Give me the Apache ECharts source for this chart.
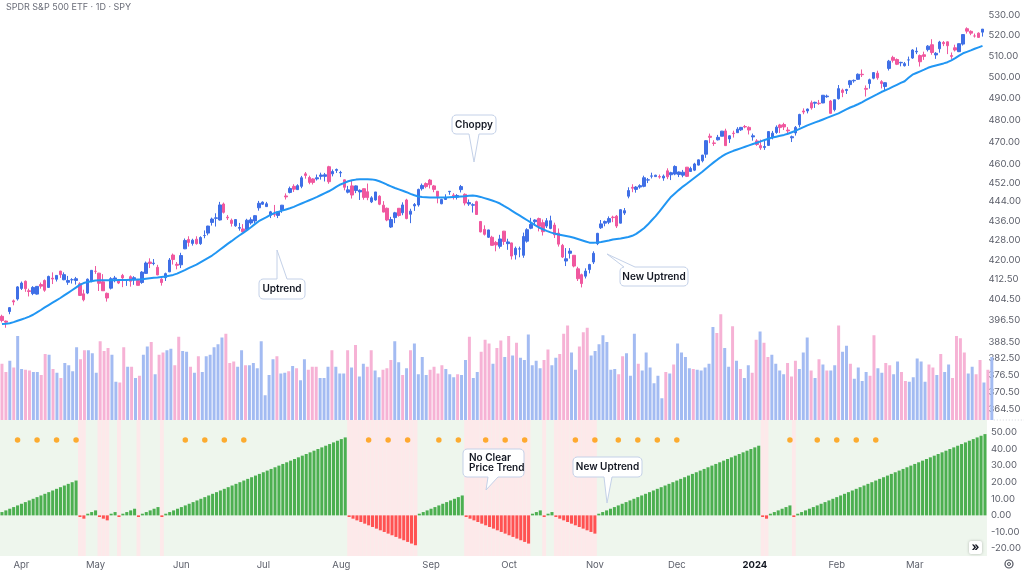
<!DOCTYPE html>
<html>
<head>
<meta charset="utf-8">
<title>SPDR S&amp;P 500 ETF</title>
<script src="https://cdn.jsdelivr.net/npm/echarts@6/dist/echarts.min.js"></script>
<style>
html,body{margin:0;padding:0;background:#fff;}
#chart{width:1024px;height:571px;}
</style>
</head>
<body>
<div id="chart"></div>
<script>
// daily candles, Mar 27 2023 .. Mar 27 2024
var opens = [
398.1,396.3,399.9,404.0,404.7,408.8,411.6,407.9,406.8,406.6,
410.3,411.9,409.2,412.8,412.4,415.6,412.2,411.2,412.2,411.9,
410.6,406.7,407.0,411.5,415.5,414.8,411.4,406.9,408.9,412.4,
411.7,413.9,411.9,413.4,412.2,411.9,411.1,414.7,419.2,418.6,
417.1,412.4,413.0,415.3,422.0,418.3,418.1,424.5,428.3,426.7,
428.4,426.6,429.9,430.9,435.3,437.0,436.3,443.0,437.5,436.2,
433.9,432.9,432.6,432.4,435.1,435.9,441.4,442.9,441.9,438.3,
438.6,438.2,440.5,446.4,447.9,450.5,449.1,450.5,455.9,454.3,
453.7,453.7,454.8,454.8,459.0,455.9,457.4,456.3,453.3,448.0,
450.7,448.7,448.1,449.5,448.2,443.9,444.7,446.3,442.5,441.2,
433.4,437.3,441.2,439.3,444.7,438.7,442.2,442.6,449.5,451.7,
453.2,450.7,448.4,443.1,444.9,448.2,446.8,445.9,449.1,447.1,
443.0,442.5,444.0,435.7,432.4,429.2,429.2,427.1,425.5,431.7,
426.6,426.9,422.1,424.4,421.9,427.6,432.9,435.6,436.9,435.2,
433.8,432.8,434.2,430.9,425.9,419.6,422.7,421.9,416.5,414.2,
413.6,416.2,419.2,426.6,433.1,435.0,435.4,437.5,437.9,435.0,
439.2,446.3,450.1,449.2,450.2,450.5,453.2,454.9,454.7,454.7,
454.1,457.2,455.5,455.8,455.6,455.3,458.8,456.9,457.5,459.7,
461.6,464.5,472.5,469.5,470.9,472.5,474.9,471.3,473.9,474.1,
475.4,476.9,476.5,472.2,470.4,468.3,467.5,468.4,471.9,474.2,
477.6,477.8,475.3,471.8,474.0,477.7,484.0,484.0,487.8,487.6,
487.6,487.7,490.6,488.6,484.6,489.7,493.7,493.5,496.3,498.1,
498.8,501.2,494.5,496.8,499.3,501.7,497.7,495.4,504.0,509.3,
508.3,506.7,505.3,508.1,509.0,512.0,510.2,510.6,513.1,515.5,
510.5,513.5,516.6,516.9,510.2,514.0,512.1,515.8,523.4,522.1,
519.8,521.2,521.7
];
var closes = [
396.5,395.9,401.4,403.6,409.4,410.9,408.7,407.6,409.2,409.6,
409.7,408.1,413.5,412.5,413.9,414.2,414.2,411.9,412.2,412.6,
406.1,404.4,412.4,415.9,415.5,410.8,407.9,405.1,412.6,412.9,
410.9,412.9,412.1,411.6,413.0,410.0,415.2,418.8,418.6,418.8,
414.1,411.1,414.6,420.0,420.2,417.9,421.8,427.9,427.1,428.0,
426.6,429.1,429.9,433.8,436.7,437.2,442.6,439.5,437.2,434.9,
436.5,433.2,431.4,436.2,436.4,438.1,443.3,443.8,443.1,439.7,
438.5,439.7,442.5,446.0,449.6,449.3,450.8,454.2,455.2,452.2,
452.2,454.2,455.4,455.5,452.5,456.9,457.8,456.5,450.1,449.0,
446.8,450.7,448.8,445.8,445.7,445.6,448.1,442.9,439.6,436.3,
436.5,439.3,438.2,442.6,436.9,440.0,442.8,449.2,450.9,450.4,
451.2,449.2,446.2,444.9,445.5,448.4,446.5,446.6,450.4,443.4,
443.6,442.7,438.6,431.4,430.4,432.2,425.9,426.1,428.5,427.5,
427.3,421.6,424.7,424.5,429.5,432.3,434.5,436.3,433.7,431.5,
436.0,436.0,430.2,426.4,421.2,420.5,423.6,417.6,412.6,410.7,
415.6,418.2,422.7,430.8,434.7,435.7,436.9,437.3,433.8,440.6,
440.2,448.7,449.7,450.2,450.8,454.2,453.3,455.0,455.3,454.5,
454.9,454.6,456.4,459.1,456.7,456.6,454.8,458.2,460.2,462.0,
464.1,470.5,472.0,469.3,472.0,474.8,468.3,472.7,473.7,475.7,
476.5,476.7,475.3,472.7,468.8,467.3,467.9,474.6,473.9,476.6,
476.4,476.7,474.9,472.3,476.5,482.4,483.5,484.9,485.4,488.0,
487.4,491.3,490.9,482.9,489.2,494.4,492.6,494.0,498.1,498.3,
501.2,501.0,494.1,498.6,502.0,499.5,496.8,497.2,507.5,507.9,
506.0,506.9,506.3,508.1,512.9,512.3,507.2,509.8,514.8,511.7,
511.3,516.8,516.0,515.0,509.8,512.9,516.0,520.5,522.2,521.2,
519.8,519.1,523.2
];
var lows = [
395.8,393.8,398.9,402.3,404.1,408.2,407.5,405.7,406.2,406.4,
408.7,407.5,409.0,410.5,411.5,412.9,412.0,410.2,410.7,410.3,
405.9,403.8,406.6,411.2,414.5,407.8,407.8,403.7,408.4,411.2,
410.5,409.3,409.8,409.5,410.2,410.0,410.6,414.6,416.8,417.9,
414.0,409.9,411.7,415.2,418.2,416.3,416.8,424.4,425.4,425.8,
426.2,426.1,428.8,430.0,434.0,433.6,436.1,439.0,436.3,433.6,
433.5,431.9,431.2,432.1,434.4,435.0,440.2,442.6,441.8,437.1,
437.6,437.1,439.3,444.9,447.5,448.1,449.0,449.7,453.8,451.4,
451.3,453.0,453.4,452.6,451.6,454.8,456.3,454.5,448.8,447.5,
445.3,447.6,444.7,444.8,444.6,443.4,444.4,442.5,439.5,435.8,
433.0,435.0,437.7,438.3,436.6,435.0,440.1,441.9,448.7,449.7,
449.6,448.0,443.3,442.9,444.8,446.9,444.9,444.9,447.9,442.4,
442.2,439.4,438.5,431.2,429.9,428.9,425.8,423.5,424.6,426.1,
424.1,420.2,420.2,421.1,420.9,427.0,432.5,433.9,431.6,429.9,
433.0,432.5,428.9,425.4,420.8,417.6,420.6,417.1,411.7,409.2,
412.7,414.7,418.4,426.0,432.6,433.7,434.6,435.4,433.0,434.9,
438.4,445.4,448.0,447.8,449.5,450.1,451.9,453.9,454.7,453.8,
452.9,453.6,453.2,455.3,454.5,454.4,454.5,456.8,457.1,459.5,
460.9,462.9,469.4,468.2,470.6,472.5,468.2,469.5,471.9,474.0,
474.9,476.1,473.3,470.5,468.2,466.4,466.4,468.2,471.1,473.6,
473.9,475.3,473.3,469.9,472.8,476.5,482.5,482.9,484.6,485.4,
486.8,487.6,490.1,482.9,483.8,489.3,490.4,491.9,494.8,497.2,
498.5,499.9,490.7,494.4,498.8,498.6,494.5,493.5,503.0,506.8,
505.6,505.0,504.9,505.2,508.6,510.9,504.9,508.1,512.2,510.6,
508.6,511.6,514.8,510.9,508.6,512.2,511.9,515.1,521.0,520.2,
519.0,518.9,519.5
];
var highs = [
398.7,396.5,401.6,404.5,409.7,411.5,411.9,408.7,409.7,409.7,
411.1,412.3,413.8,415.1,414.0,415.7,415.1,413.7,412.8,413.3,
411.2,408.3,412.7,416.0,417.6,414.9,414.4,407.2,413.2,413.7,
412.5,414.5,412.4,413.9,413.6,412.5,415.6,419.4,420.7,420.4,
418.1,412.8,415.0,420.8,422.6,419.2,422.9,428.7,429.6,428.6,
429.6,429.6,432.0,433.9,437.3,439.1,443.9,443.6,438.4,436.9,
436.6,435.1,434.6,436.8,437.4,438.3,444.3,444.1,443.9,440.1,
442.6,440.0,442.6,447.5,450.4,451.4,451.4,455.0,456.7,455.1,
454.0,455.6,456.4,456.3,459.4,457.8,458.2,457.2,453.4,450.7,
452.9,450.9,449.2,449.6,451.7,446.3,448.1,446.7,444.2,441.5,
437.6,439.7,441.2,443.7,445.2,441.0,443.4,449.5,451.7,452.2,
453.7,451.1,448.5,445.2,447.1,448.5,447.6,447.2,451.1,447.5,
444.9,443.3,444.4,435.9,434.1,432.3,429.8,427.7,430.2,431.8,
428.6,427.0,425.4,425.4,431.1,432.9,437.2,436.6,437.3,436.5,
437.1,438.1,435.2,432.8,426.5,424.8,424.8,421.9,417.3,414.6,
416.7,418.5,423.5,431.0,436.3,436.1,437.8,438.1,438.4,440.9,
441.3,450.1,451.4,450.6,451.4,455.1,454.1,456.4,455.5,455.6,
455.6,458.3,456.8,459.6,456.9,457.6,458.8,459.0,460.7,462.2,
464.2,470.8,473.7,470.7,473.1,474.9,475.9,472.9,475.0,476.6,
476.7,477.6,477.0,473.7,471.2,471.0,470.4,474.8,474.9,477.4,
478.1,478.6,476.6,472.8,477.1,482.7,485.2,485.1,488.8,488.3,
489.1,491.4,491.6,489.1,489.2,496.1,494.4,494.3,498.5,498.7,
501.6,503.5,495.9,499.1,502.2,502.9,498.4,497.4,508.1,510.1,
508.8,507.2,507.1,509.7,513.3,514.2,510.7,512.1,515.3,518.2,
511.9,517.4,517.3,517.1,511.7,515.5,516.1,520.6,524.1,522.6,
521.0,521.6,523.2
];
// blue moving average line
var maLine = [
395.2,395.3,395.5,395.9,396.4,396.9,397.4,398.0,398.7,399.6,
400.5,401.5,402.4,403.3,404.2,405.1,406.1,407.1,408.1,409.1,
410.2,410.9,411.3,411.6,411.9,412.0,412.0,412.0,412.0,412.0,
412.1,412.1,412.1,412.2,412.2,412.3,412.4,412.6,412.8,413.0,
413.1,413.3,413.5,413.8,414.1,414.6,415.3,416.0,416.8,417.5,
418.2,419.1,420.0,420.9,421.8,422.9,424.1,425.3,426.5,427.6,
428.8,429.9,431.0,432.1,433.3,434.6,435.8,436.7,437.5,438.4,
439.2,439.7,440.2,440.7,441.2,441.8,442.5,443.2,443.9,444.6,
445.3,446.0,446.8,447.6,448.4,449.3,450.4,451.3,452.0,452.7,
453.1,453.4,453.6,453.6,453.6,453.5,453.2,452.7,452.0,451.2,
450.5,449.8,449.2,448.6,448.0,447.3,446.7,446.2,446.0,445.9,
445.8,445.8,445.8,445.8,445.8,445.9,446.0,446.1,446.2,446.3,
446.5,446.6,446.4,446.0,445.5,445.0,444.5,443.9,443.2,442.2,
441.3,440.2,439.2,438.2,437.2,436.2,435.2,434.2,433.2,432.5,
431.8,431.2,430.7,430.3,430.0,429.7,429.4,429.0,428.5,428.0,
427.5,427.0,427.0,427.1,427.3,427.6,427.9,428.3,428.5,428.7,
429.0,429.3,429.8,430.6,431.7,432.9,434.4,436.2,437.9,439.9,
442.0,444.1,446.1,447.6,449.0,450.4,451.6,452.9,454.2,455.5,
456.8,458.2,459.6,461.0,462.3,463.5,464.5,465.3,466.0,466.6,
467.2,467.8,468.4,469.0,469.6,470.2,470.8,471.4,471.9,472.3,
472.7,473.1,473.6,474.3,475.0,475.8,476.6,477.4,478.1,478.8,
479.4,480.1,480.8,481.5,482.2,482.9,483.8,484.7,485.6,486.3,
487.1,488.0,489.0,490.0,490.9,491.8,492.8,493.6,494.4,495.3,
496.2,497.1,497.9,499.5,501.0,501.8,502.6,503.4,504.3,504.9,
505.4,505.9,506.4,507.0,507.9,509.0,510.2,511.3,512.0,512.7,
513.5,514.2,514.9
];
// volume, millions of shares
var volumes = [
75,64,79,70,112,68,67,66,64,64,
60,88,87,68,63,56,76,73,65,97,
81,93,93,89,63,105,92,96,87,51,
50,97,71,71,56,59,87,98,104,61,
87,90,93,95,73,111,92,91,71,63,
85,64,85,87,97,101,110,115,76,78,
71,93,73,73,76,69,105,33,60,81,
85,62,63,65,72,69,53,81,67,71,
71,56,56,71,93,71,62,62,93,70,
100,58,75,71,93,66,57,67,69,80,
105,77,60,69,93,102,61,84,60,67,
71,62,73,68,61,57,61,60,80,111,
56,64,91,107,102,75,96,106,84,112,
86,103,83,80,114,73,79,69,80,94,
73,83,88,115,126,90,67,98,117,123,
86,92,101,113,104,67,68,61,85,89,
59,115,75,66,90,70,49,59,29,64,
62,74,102,90,84,69,68,67,66,70,
75,124,116,141,96,71,125,79,68,56,
73,63,107,118,103,84,87,75,66,61,
76,58,79,68,90,110,66,56,81,74,
66,66,73,126,91,99,75,55,70,52,
64,59,113,69,63,76,73,61,78,64,
52,51,57,82,78,51,74,70,60,88,
64,74,56,112,109,90,62,71,61,80,
50,67,84
];
// days-in-trend counter (lower pane)
var trendCount = [
2,3,4,5,6,7,8,9,10,11,12,13,14,15,16,17,18,19,20,21,
-1,-2,1,2,3,-1,-2,-3,1,2,-1,1,2,3,4,-1,1,2,3,4,5,-1,
1,2,3,4,5,6,7,8,9,10,11,12,13,14,15,16,17,18,19,20,
21,22,23,24,25,26,27,28,29,30,31,32,33,34,35,36,37,38,39,40,
41,42,43,44,45,46,47,
-1,-2,-3,-4,-5,-6,-7,-8,-9,-10,-11,-12,-13,-14,-15,-16,-17,-18,
1,2,3,4,5,6,7,8,9,10,11,12,
-1,-2,-3,-4,-5,-6,-7,-8,-9,-10,-11,-12,-13,-14,-15,-16,-17,
1,2,3,-1,1,2,
-1,-2,-3,-4,-5,-6,-7,-8,-9,-10,-11,
1,2,3,4,5,6,7,8,9,10,11,12,13,14,15,16,17,18,19,20,
21,22,23,24,25,26,27,28,29,30,31,32,33,34,35,36,37,38,39,40,
41,42,
-1,-2,
1,2,3,4,5,6,-1,
1,2,3,4,5,6,7,8,9,10,11,12,13,14,15,16,17,18,19,20,
21,22,23,24,25,26,27,28,29,30,31,32,33,34,35,36,37,38,39,40,
41,42,43,44,45,46,47,48,49
];
var weeklyDots = [4,9,14,19,47,52,57,62,94,99,104,112,117,124,129,134,147,152,158,163,168,173,202,209,214,219,224];
var dotLevel = 45.5;

var priceTicks = [530,520,510,500,490,480,470,460,452,444,436,428,420,412.5,404.5,396.5,388.5,382.5,376.5,370.5,364.5];
var trendTicks = [50,40,30,20,10,0,-10,-20];
var monthTicks = {5:'Apr',24:'May',46:'Jun',67:'Jul',87:'Aug',110:'Sep',130:'Oct',152:'Nov',173:'Dec',193:'2024',214:'Feb',234:'Mar'};

var upColor = '#3f6fe6', downColor = '#f0589f';
var volUp = '#a3bbf2', volDown = '#f6b2d5';
var labelColor = '#5d606b';
var fontFamily = 'Inter, Roboto, sans-serif';

var days = closes.map(function (c, i) { return i; });
var plotRight = 1024 - 253 * 3.928;

var candleData = closes.map(function (c, i) {
    return [Math.log(opens[i]), Math.log(c), Math.log(lows[i]), Math.log(highs[i])];
});
var volData = volumes.map(function (v, i) {
    return {value: v, itemStyle: {color: closes[i] >= opens[i] ? volUp : volDown}};
});
var histData = trendCount.map(function (v) {
    return {value: v, itemStyle: {color: v >= 0 ? '#4caf50' : '#ff5252'}};
});
var bandData = trendCount.map(function (v) { return v < 0 ? 1 : '-'; });
var dotData = weeklyDots.map(function (i) { return [i, dotLevel]; });

//quarter circle points for a rounded corner
function corner(cx, cy, r, a0) {
    var pts = [];
    for (var k = 0; k <= 3; k++) {
        var a = (a0 + k * 30) * Math.PI / 180;
        pts.push([cx + r * Math.cos(a), cy + r * Math.sin(a)]);
    }
    return pts;
}

//speech bubble with a pointer tail
function bubble(b) {
    var r = 4, x0 = b.box[0], y0 = b.box[1], x1 = b.box[2], y1 = b.box[3];
    var pts = corner(x0 + r, y0 + r, r, 180);
    if (b.side === 'top') {
        pts.push([b.base[0], y0], b.tip, [b.base[1], y0]);
    }
    pts = pts.concat(corner(x1 - r, y0 + r, r, 270), corner(x1 - r, y1 - r, r, 0));
    if (b.side === 'bottom') {
        pts.push([b.base[1], y1], b.tip, [b.base[0], y1]);
    }
    pts = pts.concat(corner(x0 + r, y1 - r, r, 90));
    var left = b.align === 'left';
    return [
        {type: 'polygon', z: 100, shape: {points: pts}, style: {fill: '#fff', stroke: '#c4d1e8', lineWidth: 1}},
        {type: 'text', z: 101, x: left ? x0 + 6 : (x0 + x1) / 2, y: (y0 + y1) / 2,
            style: {text: b.text, fill: '#131722', font: '600 10px ' + fontFamily,
                align: left ? 'left' : 'center', verticalAlign: 'middle', lineHeight: 10}}
    ];
}

var graphics = [
    {type: 'text', x: 6, y: 7, style: {text: 'SPDR S&P 500 ETF · 1D · SPY', fill: '#6a6d78',
        font: '9px ' + fontFamily, verticalAlign: 'middle'}}
];
[
    {text: 'Choppy', box: [452, 115, 496, 134], side: 'bottom', base: [469, 479], tip: [474, 162]},
    {text: 'Uptrend', box: [259, 279, 305, 299], side: 'top', base: [277, 287], tip: [277, 250]},
    {text: 'New Uptrend', box: [620, 267, 688, 286], side: 'top', base: [624, 635], tip: [607, 254]},
    {text: 'No Clear\nPrice Trend', box: [463, 449, 524, 477], side: 'bottom', base: [488, 498], tip: [486, 490], align: 'left'},
    {text: 'New Uptrend', box: [573, 457, 642, 477], side: 'bottom', base: [604, 612], tip: [607, 503]}
].forEach(function (b) { graphics = graphics.concat(bubble(b)); });

graphics.push(
    {type: 'rect', z: 100, shape: {x: 969, y: 541, width: 13, height: 13, r: 2},
        style: {fill: '#fff', shadowBlur: 3, shadowColor: 'rgba(0,0,0,0.25)'}},
    {type: 'text', z: 101, x: 975.5, y: 547, style: {text: '»', fill: '#131722', font: 'bold 12px ' + fontFamily,
        align: 'center', verticalAlign: 'middle'}},
    {type: 'circle', shape: {cx: 1009, cy: 564, r: 4}, style: {fill: 'none', stroke: '#50535e', lineWidth: 1.2}},
    {type: 'circle', shape: {cx: 1009, cy: 564, r: 1.5}, style: {fill: 'none', stroke: '#50535e', lineWidth: 1}},
    {type: 'line', shape: {x1: 1024 - plotRight, y1: 420, x2: 1024, y2: 420},
        style: {stroke: '#d1d4dc', lineWidth: 1, lineDash: [1, 2]}}
);

function catAxis(grid, showLabels) {
    return {
        type: 'category', gridIndex: grid, data: days, boundaryGap: true,
        axisLine: {show: false}, axisTick: {show: false}, splitLine: {show: false},
        axisLabel: showLabels ? {
            show: true, margin: 4, color: labelColor, fontSize: 9.5, fontFamily: fontFamily,
            interval: function (idx) { return monthTicks[idx] !== undefined; },
            formatter: function (val, idx) {
                var t = monthTicks[idx] || '';
                return t === '2024' ? '{b|2024}' : t;
            },
            rich: {b: {fontWeight: 'bold', color: '#131722', fontSize: 9.5, fontFamily: fontFamily}}
        } : {show: false}
    };
}

var chart = echarts.init(document.getElementById('chart'));
chart.setOption({
    animation: false,
    backgroundColor: '#fff',
    grid: [
        {left: 0, right: plotRight, top: 0, height: 420},
        {left: 0, right: plotRight, top: 300, height: 120},
        {left: 0, right: plotRight, top: 420, height: 136, show: true, backgroundColor: '#eef6ed', borderWidth: 0}
    ],
    xAxis: [catAxis(0, false), catAxis(1, false), catAxis(2, true), catAxis(2, false)],
    yAxis: [
        {
            type: 'value', gridIndex: 0, position: 'right', min: Math.log(360.7), max: Math.log(537.9),
            axisLine: {show: false}, axisTick: {show: false}, splitLine: {show: false},
            axisLabel: {
                margin: 4, color: labelColor, fontSize: 9.5, fontFamily: fontFamily,
                customValues: priceTicks.map(function (p) { return Math.log(p); }),
                formatter: function (v) { return Math.exp(v).toFixed(2); }
            }
        },
        {type: 'value', gridIndex: 1, min: 0, max: 160, show: false},
        {
            type: 'value', gridIndex: 2, position: 'right', min: -24.5, max: 57.5,
            axisLine: {show: false}, axisTick: {show: false}, splitLine: {show: false},
            axisLabel: {
                margin: 4, color: labelColor, fontSize: 9.5, fontFamily: fontFamily,
                customValues: trendTicks,
                formatter: function (v) { return v.toFixed(2); }
            }
        },
        {type: 'value', gridIndex: 2, min: 0, max: 1, show: false}
    ],
    series: [
        {
            name: 'Volume', type: 'bar', xAxisIndex: 1, yAxisIndex: 1, data: volData,
            barCategoryGap: '24%', silent: true, z: 1
        },
        {
            name: 'SPY', type: 'candlestick', xAxisIndex: 0, yAxisIndex: 0, data: candleData,
            barWidth: 3, z: 3,
            itemStyle: {color: upColor, color0: downColor, borderColor: upColor, borderColor0: downColor, borderWidth: 1}
        },
        {
            name: 'MA', type: 'line', xAxisIndex: 0, yAxisIndex: 0,
            data: maLine.map(function (v) { return Math.log(v); }),
            showSymbol: false, silent: true, z: 4,
            lineStyle: {color: '#2196f3', width: 2}
        },
        {
            name: 'bands', type: 'bar', xAxisIndex: 3, yAxisIndex: 3, data: bandData,
            barCategoryGap: '0%', silent: true, z: 1,
            itemStyle: {color: '#fde9ea'}
        },
        {
            name: 'Trend', type: 'bar', xAxisIndex: 2, yAxisIndex: 2, data: histData,
            barCategoryGap: '22%', silent: true, z: 2
        },
        {
            name: 'Weekly', type: 'scatter', xAxisIndex: 2, yAxisIndex: 2, data: dotData,
            symbolSize: 5.5, silent: true, z: 3,
            itemStyle: {color: '#ff9800'}
        }
    ],
    graphic: graphics
});
</script>
</body>
</html>
